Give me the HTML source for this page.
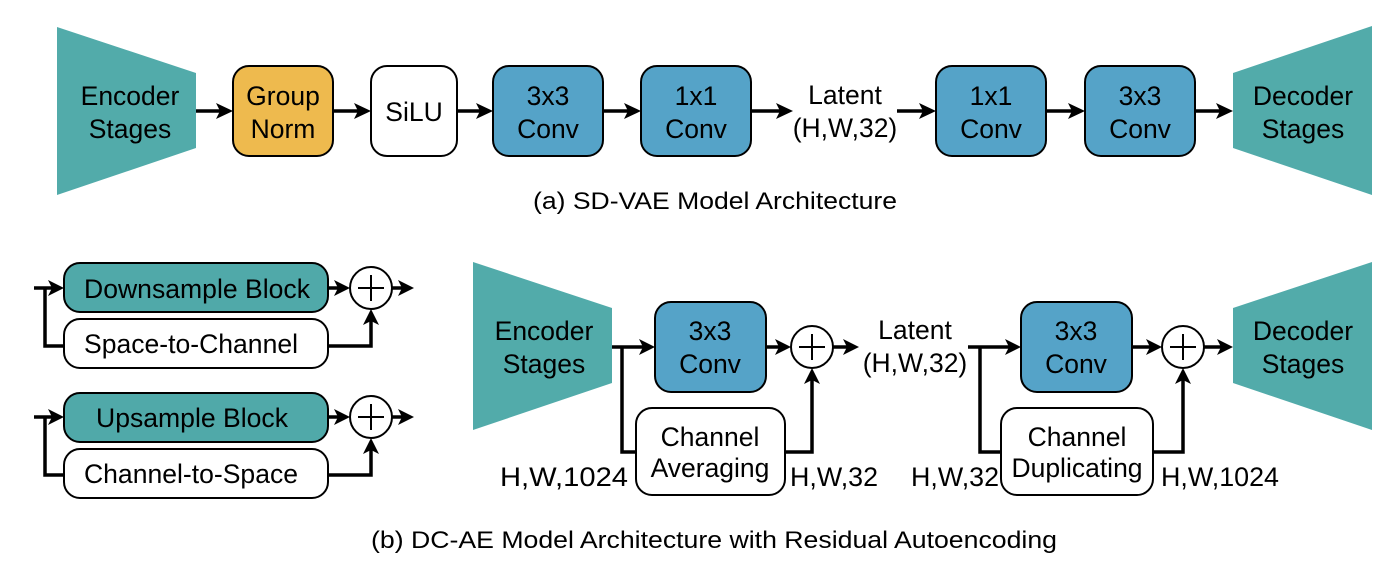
<!DOCTYPE html>
<html><head><meta charset="utf-8"><style>
html,body{margin:0;padding:0;background:#fff;}
svg{display:block;}
text{font-family:"Liberation Sans",Arial,sans-serif;fill:#000;}
</style></head><body>
<svg width="1380" height="570" viewBox="0 0 1380 570" xmlns="http://www.w3.org/2000/svg">
<!-- TOP ROW -->
<polygon points="57,27 196,73 196,148 57,195" fill="#52ABAA"/>
<polygon points="1233,73 1372,26 1372,195 1233,148" fill="#52ABAA"/>
<g stroke="#000" stroke-width="2">
<rect x="233" y="66" width="100" height="90" rx="16" fill="#EEBA4E"/>
<rect x="371" y="66" width="86" height="90" rx="16" fill="#fff"/>
<rect x="493" y="66" width="110" height="90" rx="16" fill="#55A3C8"/>
<rect x="641" y="66" width="110" height="90" rx="16" fill="#55A3C8"/>
<rect x="936" y="66" width="110" height="90" rx="16" fill="#55A3C8"/>
<rect x="1085" y="66" width="110" height="90" rx="16" fill="#55A3C8"/>
</g>
<g stroke="#000" stroke-width="3.5" fill="#000">
<line x1="196" y1="111" x2="222" y2="111"/><polygon points="233,111 216,103 220,111 216,119" stroke="none"/>
<line x1="333" y1="111" x2="360" y2="111"/><polygon points="371,111 354,103 358,111 354,119" stroke="none"/>
<line x1="457" y1="111" x2="482" y2="111"/><polygon points="493,111 476,103 480,111 476,119" stroke="none"/>
<line x1="603" y1="111" x2="630" y2="111"/><polygon points="641,111 624,103 628,111 624,119" stroke="none"/>
<line x1="751" y1="111" x2="782" y2="111"/><polygon points="793,111 776,103 780,111 776,119" stroke="none"/>
<line x1="897" y1="111" x2="925" y2="111"/><polygon points="936,111 919,103 923,111 919,119" stroke="none"/>
<line x1="1046" y1="111" x2="1074" y2="111"/><polygon points="1085,111 1068,103 1072,111 1068,119" stroke="none"/>
<line x1="1195" y1="111" x2="1222" y2="111"/><polygon points="1233,111 1216,103 1220,111 1216,119" stroke="none"/>
</g>
<g font-size="26.5" text-anchor="middle">
<text x="130" y="105">Encoder</text><text x="130" y="138">Stages</text>
<text x="283" y="105">Group</text><text x="283" y="138">Norm</text>
<text x="414" y="121">SiLU</text>
<text x="548" y="105">3x3</text><text x="548" y="138">Conv</text>
<text x="696" y="105">1x1</text><text x="696" y="138">Conv</text>
<text x="845" y="104">Latent</text><text x="845" y="137">(H,W,32)</text>
<text x="991" y="105">1x1</text><text x="991" y="138">Conv</text>
<text x="1140" y="105">3x3</text><text x="1140" y="138">Conv</text>
<text x="1303" y="105">Decoder</text><text x="1303" y="138">Stages</text>
<text x="533" y="209" font-size="24" text-anchor="start" textLength="364" lengthAdjust="spacingAndGlyphs">(a) SD-VAE Model Architecture</text>
</g>
<!-- BOTTOM LEFT -->
<g stroke="#000" stroke-width="2">
<rect x="64" y="263" width="264" height="49" rx="16" fill="#50A9A9"/>
<rect x="64" y="319" width="264" height="49" rx="16" fill="#fff"/>
<rect x="64" y="393" width="264" height="49" rx="16" fill="#50A9A9"/>
<rect x="64" y="449" width="264" height="49" rx="16" fill="#fff"/>
<circle cx="371" cy="288" r="21" fill="#fff"/>
<circle cx="371" cy="417" r="21" fill="#fff"/>
<path d="M371,275 V301 M358,288 H384 M371,404 V430 M358,417 H384" fill="none"/>
</g>
<g stroke="#000" stroke-width="3.5" fill="none">
<path d="M34,288 H54 M45,288 V346 H64"/>
<path d="M34,417 H54 M45,417 V475 H64"/>
<path d="M328,288 H340 M392,288 H403 M328,417 H340 M392,417 H403"/>
<path d="M328,346 H371 V320 M328,475 H371 V449"/>
</g>
<g fill="#000">
<polygon points="64,288 48,280 52,288 48,296"/><polygon points="64,417 48,409 52,417 48,425"/>
<polygon points="350,288 334,280 338,288 334,296"/><polygon points="350,417 334,409 338,417 334,425"/>
<polygon points="414,288 398,280 402,288 398,296"/><polygon points="414,417 398,409 402,417 398,425"/>
<polygon points="371,309 363,325 371,321 379,325"/><polygon points="371,438 363,454 371,450 379,454"/>
</g>
<g font-size="26.5">
<text x="84" y="298" textLength="226" lengthAdjust="spacingAndGlyphs">Downsample Block</text>
<text x="84" y="353" textLength="214" lengthAdjust="spacingAndGlyphs">Space-to-Channel</text>
<text x="96" y="427" textLength="192" lengthAdjust="spacingAndGlyphs">Upsample Block</text>
<text x="84" y="483" textLength="214" lengthAdjust="spacingAndGlyphs">Channel-to-Space</text>
</g>
<!-- BOTTOM RIGHT -->
<polygon points="473,262 612,308 612,383 473,430" fill="#52ABAA"/>
<polygon points="1233,308 1372,262 1372,430 1233,383" fill="#52ABAA"/>
<g stroke="#000" stroke-width="2">
<rect x="655" y="302" width="111" height="90" rx="16" fill="#55A3C8"/>
<rect x="636" y="408" width="149" height="87" rx="16" fill="#fff"/>
<rect x="1021" y="302" width="111" height="90" rx="16" fill="#55A3C8"/>
<rect x="1001" y="408" width="152" height="87" rx="16" fill="#fff"/>
<circle cx="812" cy="347" r="21" fill="#fff"/>
<circle cx="1183" cy="347" r="21" fill="#fff"/>
<path d="M812,334 V360 M799,347 H825 M1183,334 V360 M1170,347 H1196" fill="none"/>
</g>
<g stroke="#000" stroke-width="3.5" fill="none">
<path d="M612,347 H645 M622,347 V452 H636"/>
<path d="M766,347 H780 M833,347 H848"/>
<path d="M785,452 H812 V379"/>
<path d="M968,347 H1010 M980,347 V452 H1001"/>
<path d="M1132,347 H1151 M1204,347 H1222"/>
<path d="M1153,452 H1183 V379"/>
</g>
<g fill="#000">
<polygon points="655,347 639,339 643,347 639,355"/>
<polygon points="791,347 775,339 779,347 775,355"/>
<polygon points="859,347 843,339 847,347 843,355"/>
<polygon points="812,368 804,384 812,380 820,384"/>
<polygon points="1021,347 1005,339 1009,347 1005,355"/>
<polygon points="1162,347 1146,339 1150,347 1146,355"/>
<polygon points="1233,347 1217,339 1221,347 1217,355"/>
<polygon points="1183,368 1175,384 1183,380 1191,384"/>
</g>
<g font-size="26.5" text-anchor="middle">
<text x="544" y="340">Encoder</text><text x="544" y="373">Stages</text>
<text x="710" y="340">3x3</text><text x="710" y="373">Conv</text>
<text x="710" y="446">Channel</text><text x="710" y="477">Averaging</text>
<text x="915" y="339">Latent</text><text x="915" y="372">(H,W,32)</text>
<text x="1076" y="340">3x3</text><text x="1076" y="373">Conv</text>
<text x="1077" y="446">Channel</text><text x="1077" y="477">Duplicating</text>
<text x="1303" y="340">Decoder</text><text x="1303" y="373">Stages</text>
</g>
<g font-size="26.5">
<text x="500" y="486" textLength="128" lengthAdjust="spacingAndGlyphs">H,W,1024</text>
<text x="790" y="486" textLength="88" lengthAdjust="spacingAndGlyphs">H,W,32</text>
<text x="911" y="486" textLength="88" lengthAdjust="spacingAndGlyphs">H,W,32</text>
<text x="1161" y="486" textLength="118" lengthAdjust="spacingAndGlyphs">H,W,1024</text>
<text x="371" y="548" font-size="24" textLength="686" lengthAdjust="spacingAndGlyphs">(b) DC-AE Model Architecture with Residual Autoencoding</text>
</g>
</svg>
</body></html>
